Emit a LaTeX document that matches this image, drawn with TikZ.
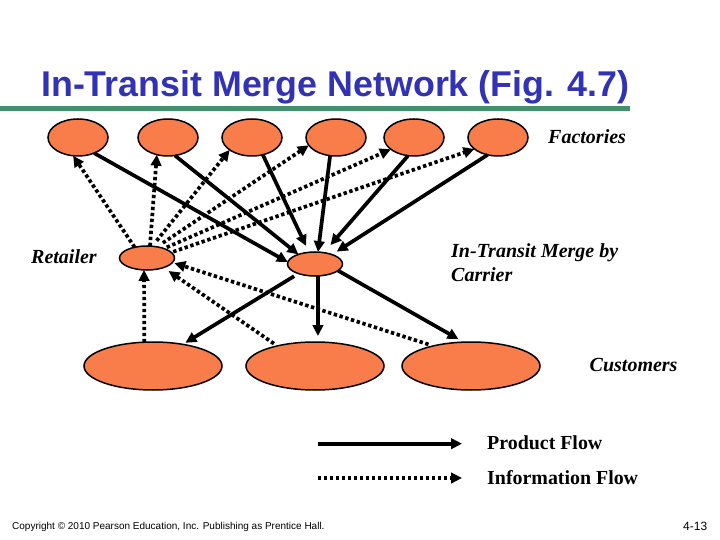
\documentclass[tikz,border=0pt]{standalone}
\usepackage{fontspec}
\setmainfont{Liberation Serif}
\newfontfamily\arialf{Liberation Sans}
\usetikzlibrary{shapes.geometric,arrows.meta}
\definecolor{nodeorange}{RGB}{248,125,75}
\definecolor{ruleg}{RGB}{64,145,108}
\definecolor{titleblue}{RGB}{50,50,180}
\tikzset{
  x=1pt,y=-1pt,
  big/.style={ellipse,draw=black,line width=1.5pt,fill=nodeorange,inner sep=0pt,outer sep=0pt,minimum width=#1},
  fac/.style={big=60pt,minimum height=37pt},
  hub/.style={big=55pt,minimum height=24pt},
  cust/.style={big=138pt,minimum height=48pt},
  tipb/.style={-{Triangle[length=11pt,width=10.5pt]}},
  prod/.style={tipb,line width=3.7pt},
  info/.style={tipb,line width=3.7pt,dash pattern=on 3.4pt off 2.6pt},
  lab/.style={font=\bfseries\itshape\fontsize{20}{24}\selectfont,anchor=base west,inner sep=0pt,align=left},
  leg/.style={font=\bfseries\fontsize{19.9}{22}\selectfont,anchor=base west,inner sep=0pt},
  sm/.style={font=\arialf\fontsize{10}{12}\selectfont,anchor=base west,inner sep=0pt},
}
\begin{document}
\begin{tikzpicture}
\useasboundingbox (0,0) rectangle (720,540);
\fill[white] (0,0) rectangle (720,540);
\node[font=\arialf\bfseries\fontsize{35.8}{40}\selectfont,text=titleblue,anchor=base west,inner sep=0pt] (title) at (41,97) {In-Transit Merge Network (Fig. 4.7)};
\coordinate (ruleL) at (0,108.5);
\coordinate (ruleR) at (630,108.5);
\draw[ruleg,line width=4.6pt] (ruleL) -- (ruleR);

\node[fac] (f1) at (78,137.5) {};
\node[fac] (f2) at (168,137.5) {};
\node[fac] (f3) at (252,137.5) {};
\node[fac] (f4) at (336,137.5) {};
\node[fac] (f5) at (414,137.5) {};
\node[fac] (f6) at (498,137.5) {};
\node[hub] (r) at (147,258) {};
\node[hub] (m) at (315,264) {};
\node[cust] (c1) at (153,366) {};
\node[cust] (c2) at (315,366) {};
\node[cust] (c3) at (471,366) {};

% information flow
\draw[info] (r.139) -- (f1.-105);
\draw[info] (r.76) -- (f2.-123);
\draw[info,shorten <=7pt] (r.66) -- (f3.209);
\draw[info,shorten <=7pt] (r.48.6) -- (f4.196);
\draw[info,shorten <=3pt] (r.29) -- (f5.207.5);
\draw[info,shorten <=2pt] (r.13) -- (f6.206.6);
\draw[info] (c1.110.7) -- (r.-104);
\draw[info,shorten <=4pt,shorten >=6pt] (c2.152) -- (r.-30.6);
\draw[info,shorten <=5pt,shorten >=2pt] (c3.152) -- (r.-10);

% product flow
\draw[prod] (f1.-44) -- (m.176);
\draw[prod] (f2.-69) -- (m.150);
\draw[prod,shorten >=7pt] (f3.-58) -- (m.117);
\draw[prod] (f4.-108) -- (m.76);
\draw[prod,shorten >=10pt] (f5.-108) -- (m.52);
\draw[prod,shorten >=5.5pt] (f6.-121) -- (m.29);
\draw[prod,shorten <=5pt,shorten >=3pt] (m.210) -- (c1.36);
\draw[prod,shorten >=6pt] (m.-76) -- (c2.83);
\draw[prod,shorten >=6pt] (m.-16) -- (c3.107);

\node[lab] (tf) at (548,144) {Factories};
\node[lab] (tr) at (31,263.5) {Retailer};
\node[lab] (tm) at (451,281.5) {In-Transit Merge by\\Carrier};
\node[lab] (tc) at (589.5,371.5) {Customers};

\coordinate (pa) at (318,443.7);
\coordinate (pb) at (462,443.7);
\coordinate (ia) at (318,478);
\coordinate (ib) at (462,478);
\draw[prod] (pa) -- (pb);
\draw[info] (ia) -- (ib);
\node[leg] (tp) at (487,449) {Product Flow};
\node[leg] (ti) at (487,484) {Information Flow};

\node[sm] (cp) at (12,529) {Copyright © 2010 Pearson Education, Inc. Publishing as Prentice Hall.};
\node[font=\arialf\fontsize{12}{14}\selectfont,anchor=base west,inner sep=0pt] (pg) at (683,530) {4-13};
\end{tikzpicture}
\end{document}
